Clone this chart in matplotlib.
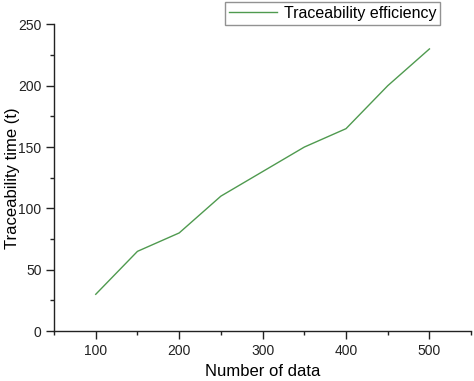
import matplotlib
matplotlib.use("Agg")
import matplotlib.pyplot as plt
from matplotlib.ticker import MultipleLocator

plt.rcParams["font.family"] = ["Liberation Sans", "DejaVu Sans"]

# data
num_data = [100, 150, 200, 250, 300, 350, 400, 450, 500]
trace_time = [30, 65, 80, 110, 130, 150, 165, 200, 230]

fig = plt.figure(figsize=(4.74, 3.81), dpi=100)
ax = fig.add_axes([0.114, 0.131, 0.88, 0.805])

ax.plot(num_data, trace_time, color="#4f9a4f", linewidth=1.0, label="Traceability efficiency")

ax.set_xlim(50, 550)
ax.set_ylim(0, 250)
ax.xaxis.set_major_locator(MultipleLocator(100))
ax.xaxis.set_minor_locator(MultipleLocator(50))
ax.yaxis.set_major_locator(MultipleLocator(50))
ax.yaxis.set_minor_locator(MultipleLocator(25))
ax.tick_params(which="both", direction="out", width=1.0, labelsize=10, colors="#222222")
ax.tick_params(which="major", length=5.5)
ax.tick_params(which="minor", length=3)

for s in ["top", "right"]:
    ax.spines[s].set_visible(False)
for s in ["left", "bottom"]:
    ax.spines[s].set_linewidth(1.0)
    ax.spines[s].set_color("#222222")

ax.set_xlabel("Number of data", fontsize=12)
ax.set_ylabel("Traceability time (t)", fontsize=12)
ax.xaxis.set_label_coords(0.5, -0.108)
ax.yaxis.set_label_coords(-0.082, 0.5)

leg = ax.legend(loc="upper right", bbox_to_anchor=(0.926, 1.073), borderaxespad=0,
                fontsize=11.5, frameon=True, fancybox=False, edgecolor="#777777",
                handlelength=3, borderpad=0.25, handletextpad=0.4)
leg.get_frame().set_linewidth(1.0)

fig.savefig("out.png", dpi=100)
